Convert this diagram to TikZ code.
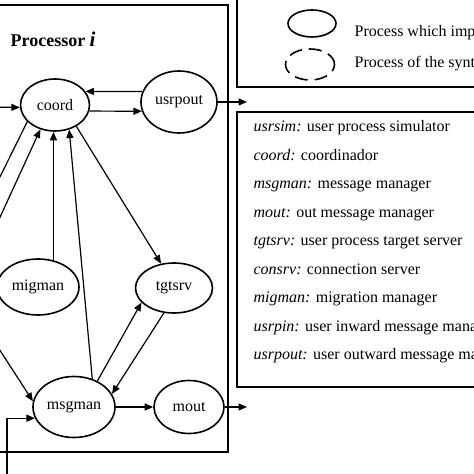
\documentclass[tikz,border=0pt]{standalone}
\usepackage{fontspec}
\setmainfont{Liberation Serif}
\usetikzlibrary{shapes.geometric,arrows.meta,positioning}
\tikzstyle{proc} = [draw, ellipse, line width=1.6pt, inner sep=0pt, font=\fontsize{16}{19}\selectfont]
\tikzstyle{frame} = [draw, line width=1.6pt]
\tikzstyle{port} = [coordinate]
\tikzstyle{deftext} = [font=\fontsize{16}{19}\selectfont, inner sep=0pt, anchor=base west]

\begin{document}
\begin{tikzpicture}[x=1pt, y=1pt, node distance=2cm, >={Triangle[length=8.5pt,width=7pt]}, line width=1.2pt]
		\useasboundingbox (0,0) rectangle (474,474);
		\clip (0,0) rectangle (474,474);
		% frames
		\draw [frame] (-10,22) rectangle (228,469);
		\draw [frame] (237,387) rectangle (490,474.5);
		\draw [frame] (237,87) rectangle (490,362);
		\node [anchor=west, inner sep=0pt, font=\fontsize{18}{21}\selectfont\bfseries] (proclabel) at (10,435) {Processor \textit{\fontsize{21}{23}\selectfont i}};

		% processes
		\node [proc, minimum width=69pt, minimum height=52pt] (coord) at (55,369) {coord};
		\node [proc, minimum width=76pt, minimum height=62pt, right of=coord, node distance=124pt, yshift=3pt] (usrpout) {usrpout};
		\node [proc, minimum width=82pt, minimum height=56pt] (migman) at (38,187) {migman};
		\node [proc, minimum width=77pt, minimum height=50pt, right of=migman, node distance=136pt, yshift=-1pt] (tgtsrv) {tgtsrv};
		\node [proc, minimum width=82pt, minimum height=61pt] (msgman) at (74,67) {msgman};
		\node [proc, minimum width=70pt, minimum height=53pt, right of=msgman, node distance=115pt] (mout) {mout};
		\node [port, right of=usrpout, node distance=68pt] (usrpoutexit) {};
		\node [port, right of=mout, node distance=58pt] (moutexit) {};
		\coordinate (coordentry) at (-10,367);
		\coordinate (coordleave) at (-12,273);
		\coordinate (coordback) at (-10,235);
		\coordinate (msgentry) at (-10,139);
		\coordinate (msgbottom) at (7,-5);

		% legend
		\node [proc, minimum width=48pt, minimum height=27pt] (solidkey) at (312,450.5) {};
		\node [proc, dash pattern=on 13pt off 7pt, minimum width=49pt, minimum height=31pt] (dashkey) at (310,409.5) {};
		\node [deftext, anchor=west] (solidtext) at (354,441) {Process which implements};
		\node [deftext, anchor=west] (dashtext) at (354,410) {Process of the synthetic};

		% definitions
		\foreach \abbr/\desc [count=\k] in {usrsim/user process simulator, coord/coordinador, msgman/message manager, mout/out message manager, tgtsrv/user process target server, consrv/connection server, migman/migration manager, usrpin/user inward message manager, usrpout/user outward message manager}
			\node [deftext] (def\k) at (253, 370.5-28.5*\k) {\textit{\abbr:} \desc};

		\draw [->] (usrpout.164) -- (coord.24);
		\draw [->] (coord.-10) -- (usrpout.194);
		\draw [->] (usrpout.east) -- (usrpoutexit);
		\draw [->] (coordentry) -- (coord.184);
		\draw [->] (coord.211) -- (coordleave);
		\draw [->] (coordback) -- (coord.239);
		\draw [->] (migman.60) -- (migman.60 |- coord.south);
		\draw [->] (msgman.57) -- (coord.300);
		\draw [->] (coord.315) -- (tgtsrv.118);
		\draw [->] (msgman.48) -- (tgtsrv.204);
		\draw [->] (tgtsrv.248) -- (msgman.19);
		\draw [->] (msgman) -- (mout);
		\draw [->] (mout) -- (moutexit);
		\draw [->] (msgentry) -- (msgman.172);
		\draw [->] (msgbottom) |- (msgman.196);
	\end{tikzpicture}
\end{document}
